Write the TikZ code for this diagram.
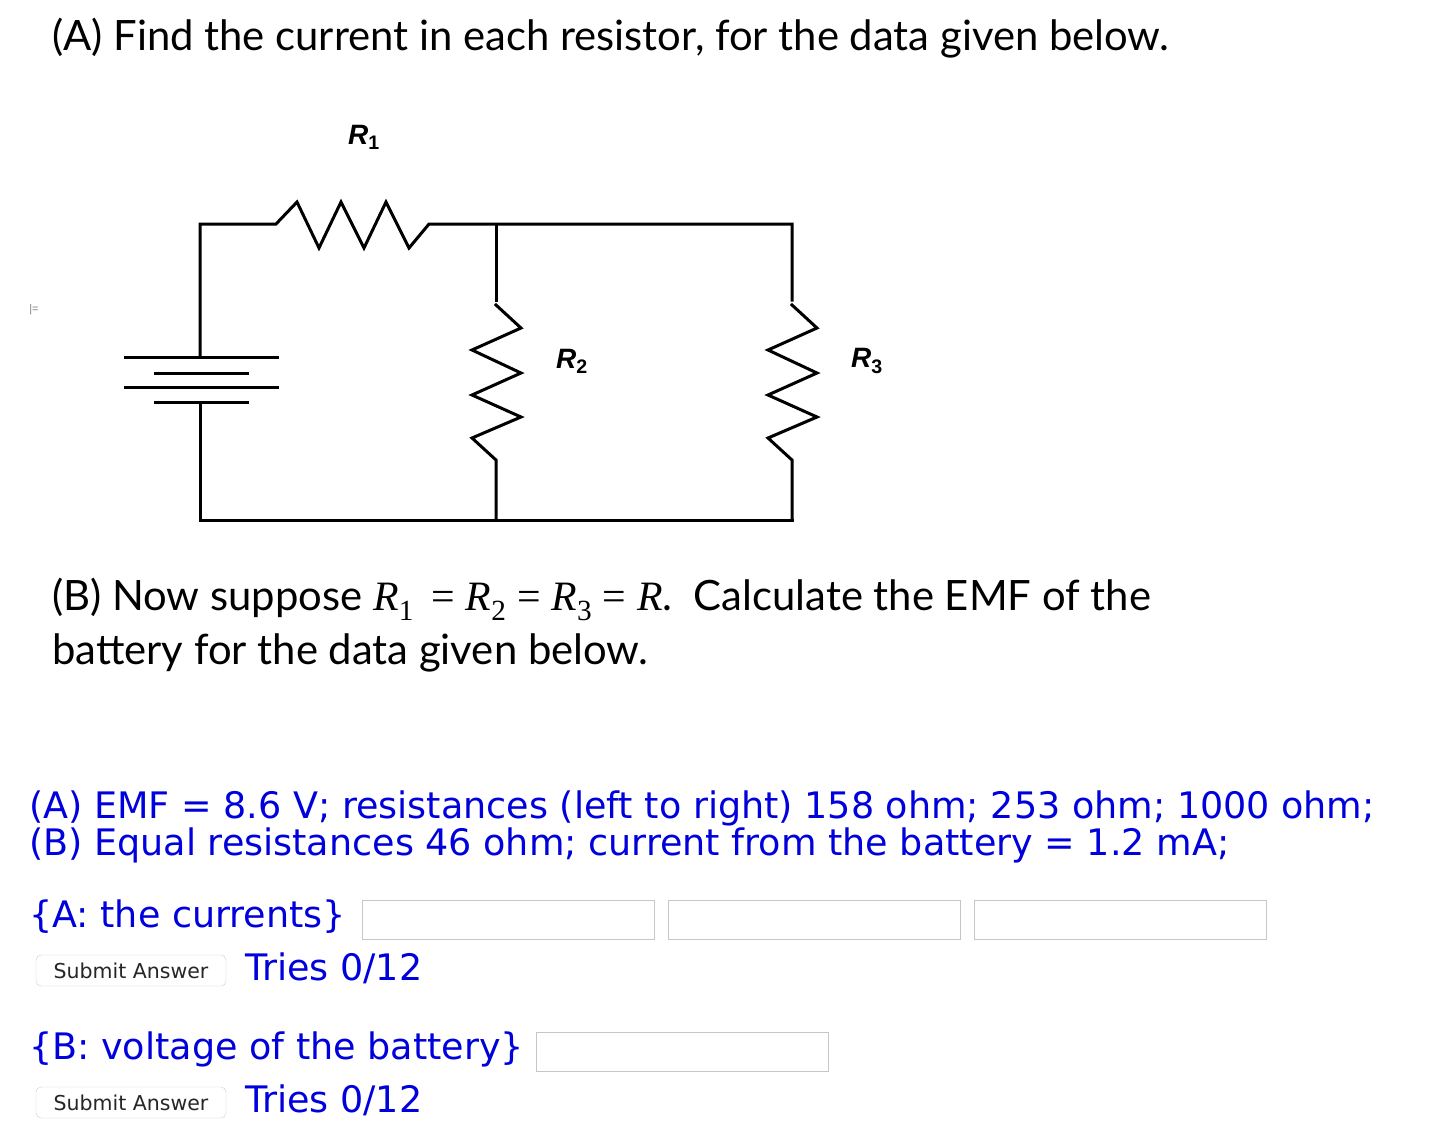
\documentclass[tikz,border=0pt]{standalone}
\usepackage{fontspec}
\setmainfont{Lato}
\newfontfamily\vfont{DejaVu Sans}
\newfontfamily\lfont{Liberation Sans}
\newfontfamily\tfont{Liberation Serif}
\begin{document}
\begin{tikzpicture}[x=1pt,y=-1pt,
  wire/.style={line width=3pt,line cap=rect,line join=miter},
  lbl/.style={font=\lfont\bfseries\itshape\fontsize{28}{30}\selectfont},
  blue/.style={text=qblue,anchor=west,inner sep=0pt,font=\vfont\fontsize{36.5}{38}\selectfont},
  btn/.style={draw=gray!40,rounded corners=5pt,fill=white,inner sep=0pt,minimum width=190pt,minimum height=31pt,font=\vfont\fontsize{20.5}{22}\selectfont,text=black!85},
  ibox/.style={draw=gray!45,line width=1pt,minimum width=292pt,minimum height=39pt,inner sep=0pt}]
\definecolor{qblue}{RGB}{0,0,220}
\useasboundingbox (0,0) rectangle (1444,1128);
% title
\node[anchor=base west,inner sep=0pt,font=\fontsize{41.8}{44}\selectfont] (title) at (52,50) {(A) Find the current in each resistor, for the data given below.};
% circuit
\coordinate (tl) at (200,224); \coordinate (bl) at (200,520);
\coordinate (tm) at (496,224); \coordinate (bm) at (496,520);
\coordinate (tr) at (792,224); \coordinate (br) at (792,520);
\draw[wire] (200,357) -- (tl) -- (276,224) -- (297,202) -- (319,248) -- (341,202) -- (364,248) -- (386,202) -- (409,248) -- (429,224) -- (tr) -- (792,300);
\draw[wire] (tm) -- (496,300);
\foreach \x/\n in {496/a,792/b}{
  \draw[wire] (\x,305) -- ++(25,23) -- ++(-49,22) -- ++(49,23) -- ++(-49,22) -- ++(49,22) -- ++(-49,21) -- ++(24,22) -- (\x,520);
}
\draw[wire] (200,402) -- (bl) -- (br);
\draw[wire] (125,357) -- (277,357);
\draw[wire] (155,373) -- (247,373);
\draw[wire] (125,387) -- (277,387);
\draw[wire] (155,402) -- (247,402);
\node[lbl] (r1) at (364,137) {R\textsubscript{\upshape 1}};
\node[lbl] (r2) at (572,361) {R\textsubscript{\upshape 2}};
\node[lbl] (r3) at (867,361) {R\textsubscript{\upshape 3}};
\node[text=gray,font=\lfont\fontsize{11}{12}\selectfont,inner sep=0pt] (mk) at (34,310) {|=};
% part B
\node[anchor=base west,inner sep=0pt,font=\fontsize{41.8}{44}\selectfont] (b1) at (52,610) {(B) Now suppose {\tfont\itshape R}{\tfont\textsubscript{1}} \,{\tfont =} {\tfont\itshape R}{\tfont\textsubscript{2}} {\tfont =} {\tfont\itshape R}{\tfont\textsubscript{3}} {\tfont =} {\tfont\itshape R}.\ \ Calculate the EMF of the};
\node[anchor=base west,inner sep=0pt,font=\fontsize{41.8}{44}\selectfont] (b2) at (52,664) {battery for the data given below.};
% blue
\node[blue] (d1) at (29,808) {(A) EMF = 8.6 V; resistances (left to right) 158 ohm; 253 ohm; 1000 ohm;};
\node[blue] (d2) at (29,845) {(B) Equal resistances 46 ohm; current from the battery = 1.2 mA;};
\node[blue] (qa) at (29,917) {\{A: the currents\}};
\node[ibox] (ia1) at (508,919.5) {};
\node[ibox] (ia2) at (814,919.5) {};
\node[ibox] (ia3) at (1120.5,919.5) {};
\node[btn] (sa) at (131,970.5) {Submit Answer};
\node[blue] (ta) at (245,968) {Tries 0/12};
\node[blue] (qb) at (29,1049) {\{B: voltage of the battery\}};
\node[ibox] (ib) at (682,1051.5) {};
\node[btn] (sb) at (131,1102.5) {Submit Answer};
\node[blue] (tb) at (245,1100) {Tries 0/12};
\end{tikzpicture}
\end{document}
